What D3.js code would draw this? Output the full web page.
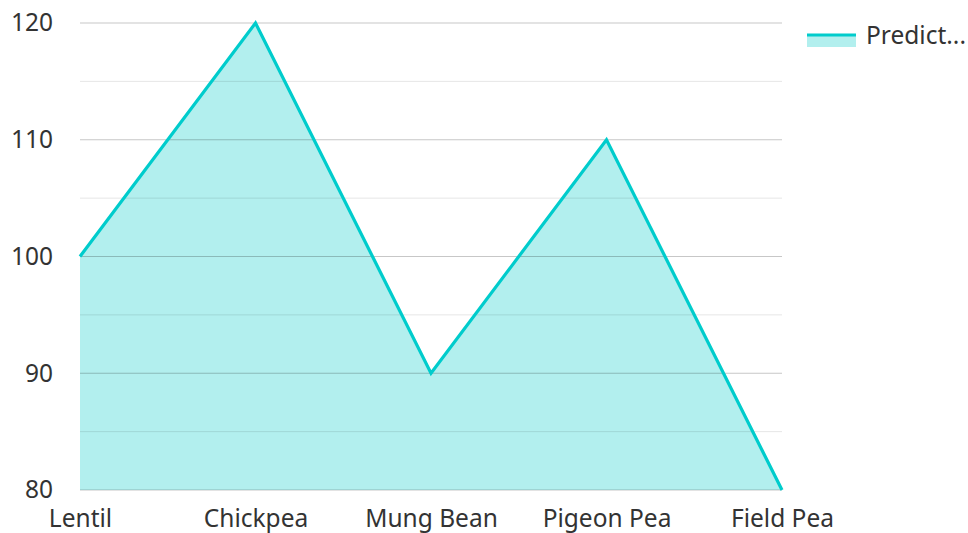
<!DOCTYPE html>
<html>
<head>
<meta charset="utf-8">
<script src="https://cdn.jsdelivr.net/npm/d3@7"></script>
<style>
  html, body { margin: 0; padding: 0; background: #fff; }
  svg { display: block; font-family: "Noto Sans", "Open Sans", sans-serif; }
</style>
</head>
<body>
<svg id="chart" width="968" height="533"></svg>
<script>
// Pulse crops and their predicted values
const categories = ["Lentil", "Chickpea", "Mung Bean", "Pigeon Pea", "Field Pea"];
const predicted = [100, 120, 90, 110, 80];
const yTicks = [80, 90, 100, 110, 120];
const yMinorTicks = [85, 95, 105, 115];
const legendLabel = "Predict...";

const lineColor = "#00cccc";
const fillColor = "#b2efee";
const fontSize = 24.5;

const svg = d3.select("#chart");
const margin = { left: 80, right: 186, top: 23, bottom: 43 };
const width = 968, height = 533;

const x = d3.scalePoint()
  .domain(categories)
  .range([margin.left, width - margin.right]);

const y = d3.scaleLinear()
  .domain([80, 120])
  .range([height - margin.bottom, margin.top]);

const data = categories.map((c, i) => ({ c, v: predicted[i] }));

// Area fill under the line
svg.append("path")
  .datum(data)
  .attr("fill", fillColor)
  .attr("d", d3.area()
    .x(d => x(d.c))
    .y0(y(80))
    .y1(d => y(d.v)));

// Grid lines drawn over the fill, semi-transparent
const grid = svg.append("g");
grid.selectAll("line.minor")
  .data(yMinorTicks)
  .join("line")
  .attr("class", "minor")
  .attr("x1", margin.left).attr("x2", width - margin.right)
  .attr("y1", d => y(d)).attr("y2", d => y(d))
  .attr("stroke", "#000").attr("stroke-opacity", 0.1).attr("stroke-width", 1);
grid.selectAll("line.major")
  .data(yTicks)
  .join("line")
  .attr("class", "major")
  .attr("x1", margin.left).attr("x2", width - margin.right)
  .attr("y1", d => y(d)).attr("y2", d => y(d))
  .attr("stroke", "#000").attr("stroke-opacity", 0.22).attr("stroke-width", 1);

// Line
svg.append("path")
  .datum(data)
  .attr("fill", "none")
  .attr("stroke", lineColor)
  .attr("stroke-width", 3.2)
  .attr("stroke-linejoin", "miter")
  .attr("d", d3.line().x(d => x(d.c)).y(d => y(d.v)));

// Y axis labels
const yAxis = svg.append("g")
  .attr("transform", `translate(${margin.left},0)`)
  .call(d3.axisLeft(y).tickValues(yTicks).tickSize(0).tickPadding(27));
yAxis.select(".domain").remove();
yAxis.selectAll("text")
  .attr("font-family", "'Noto Sans', 'Open Sans', sans-serif")
  .attr("font-size", fontSize)
  .attr("fill", "#333");

// X axis labels
const xAxis = svg.append("g")
  .attr("transform", `translate(0,${height - margin.bottom})`)
  .call(d3.axisBottom(x).tickSize(0).tickPadding(20));
xAxis.select(".domain").remove();
xAxis.selectAll("text")
  .attr("font-family", "'Noto Sans', 'Open Sans', sans-serif")
  .attr("font-size", fontSize)
  .attr("fill", "#333");

// Legend
const legend = svg.append("g").attr("transform", "translate(807,35)");
legend.append("rect")
  .attr("x", 0).attr("y", 0).attr("width", 49).attr("height", 12)
  .attr("fill", fillColor);
legend.append("line")
  .attr("x1", 0).attr("x2", 49).attr("y1", 0).attr("y2", 0)
  .attr("stroke", lineColor).attr("stroke-width", 3);
legend.append("text")
  .attr("x", 59).attr("y", 0)
  .attr("dy", "0.35em")
  .attr("font-size", fontSize)
  .attr("fill", "#333")
  .text(legendLabel);
</script>
</body>
</html>
